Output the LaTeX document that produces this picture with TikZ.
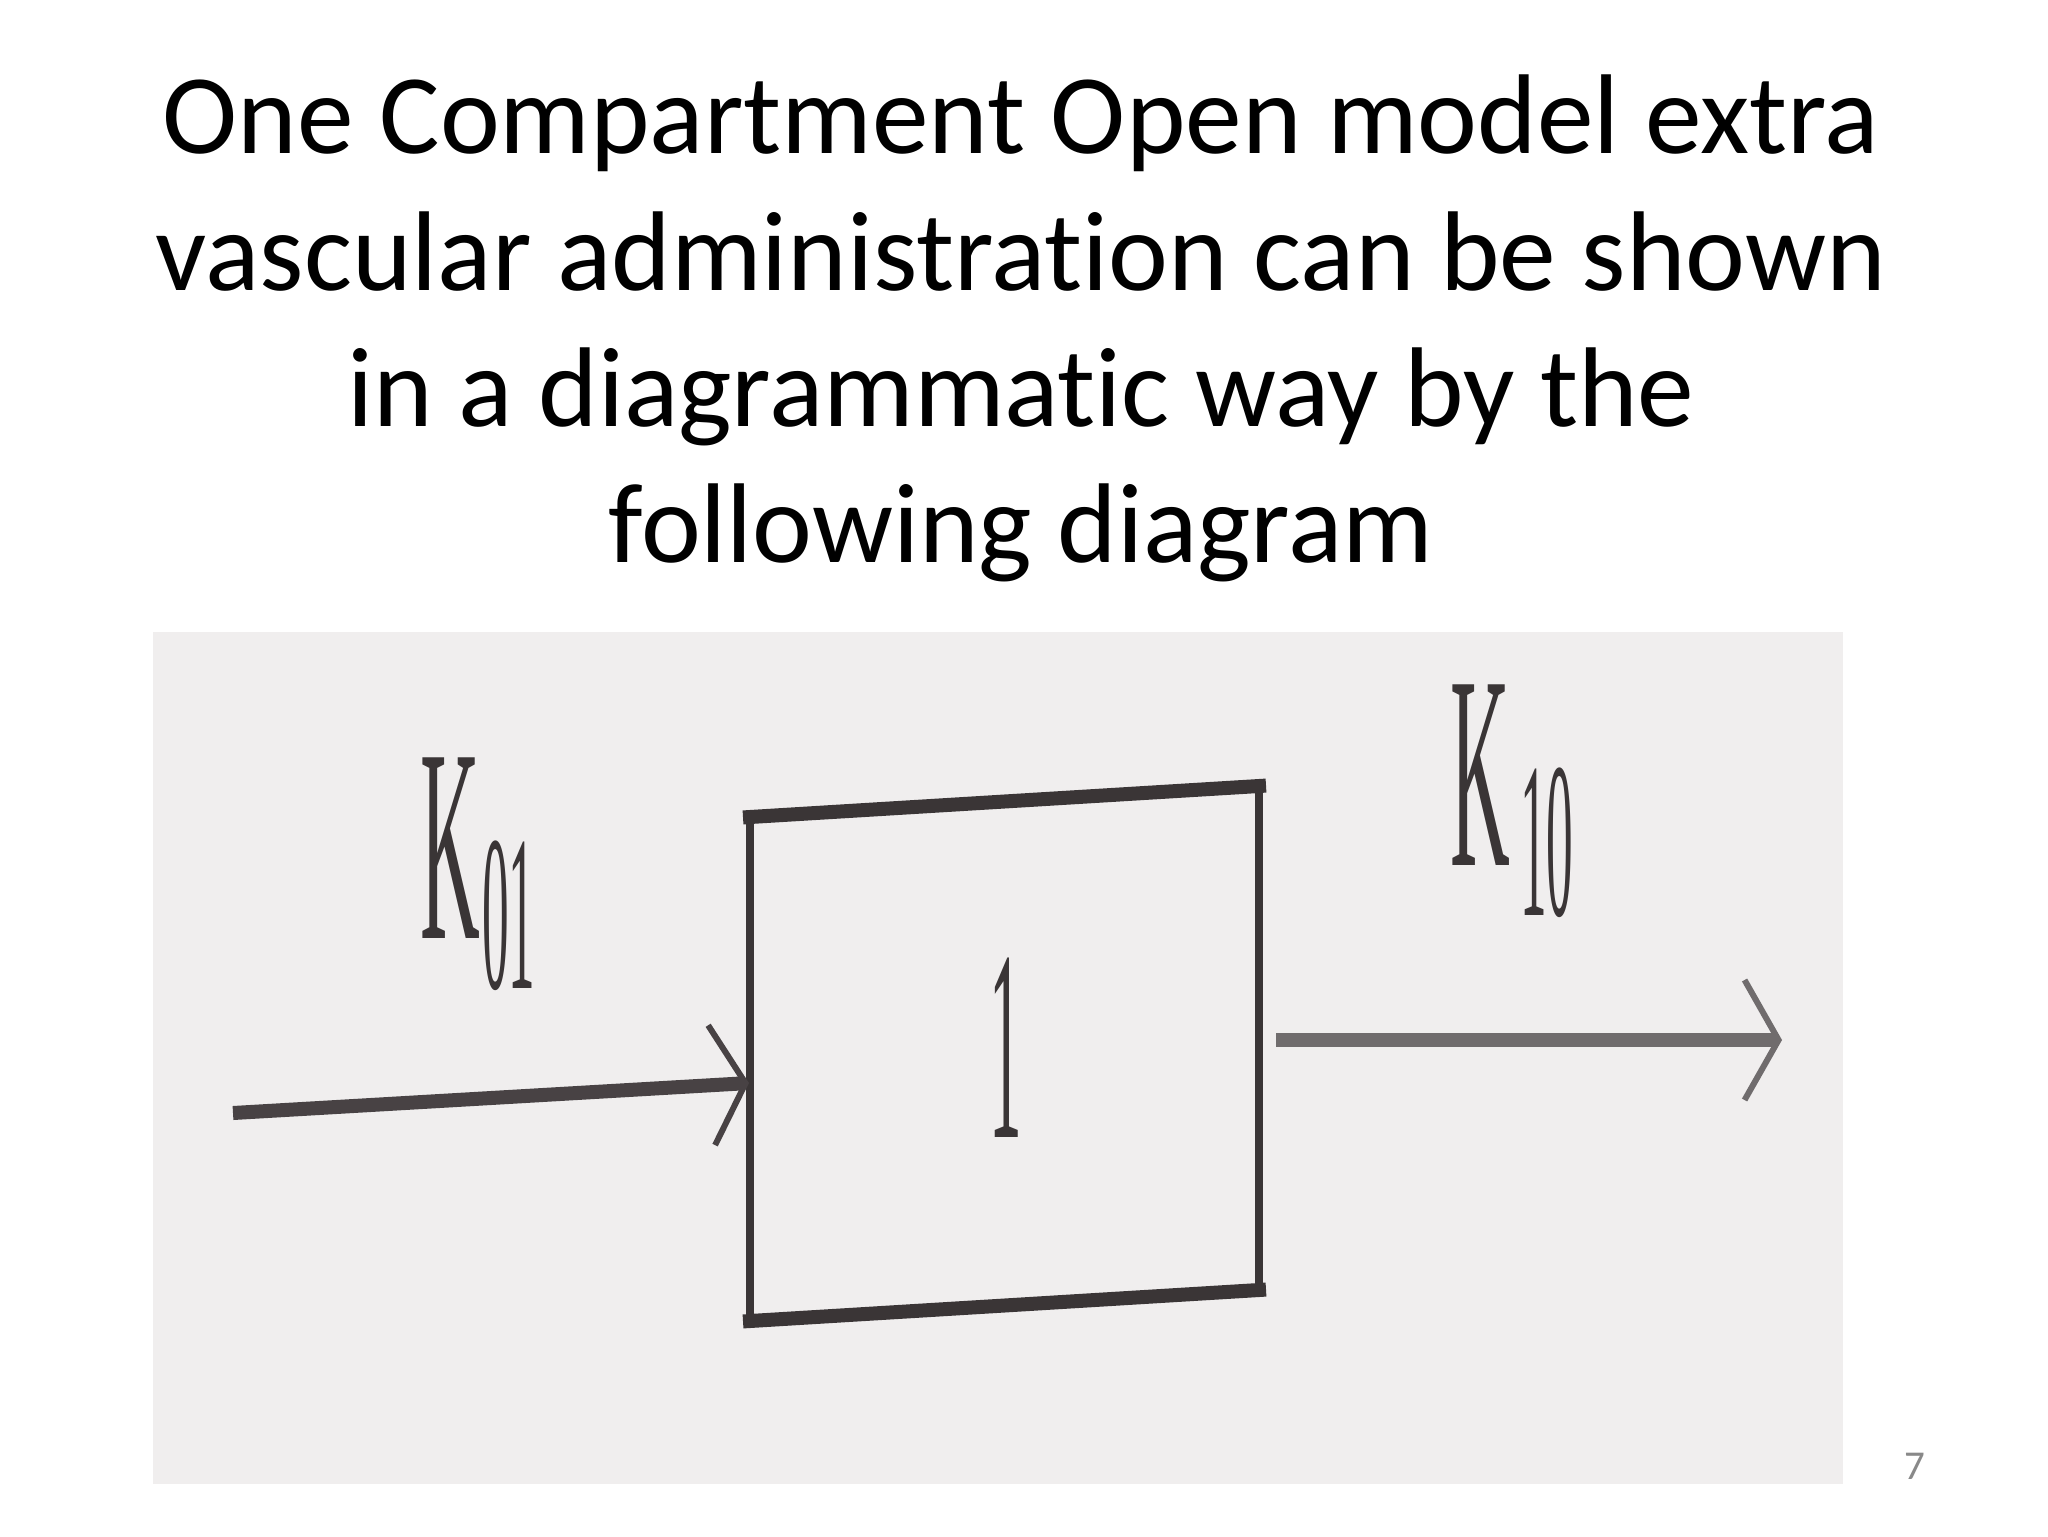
\documentclass[tikz,border=0pt]{standalone}
\usepackage{fontspec}
\setmainfont{Carlito}[Ligatures={NoCommon}]
\newfontfamily\scanfont{Liberation Serif}
\usetikzlibrary{arrows.meta}
\definecolor{scanbg}{RGB}{240,238,238}
\definecolor{inkdark}{RGB}{58,53,54}
\definecolor{inkmid}{RGB}{72,66,68}
\definecolor{inklight}{RGB}{112,108,109}
\definecolor{pagenum}{RGB}{137,137,137}
\begin{document}
\begin{tikzpicture}[x=0.5pt,y=-0.5pt,
  titleline/.style={anchor=base, inner sep=0pt, font=\fontsize{56.7pt}{68pt}\selectfont},
  boxtop/.style={draw=inkdark, line width=7pt, line cap=rect},
  boxside/.style={draw=inkdark, line width=4pt},
  flow/.style={line width=7pt, -{Straight Barb[length=17pt,width=60pt,line width=3pt]}},
  rate/.style={anchor=base west, inner sep=0pt, text=inkdark, font=\scanfont},
  pagelabel/.style={anchor=base, inner sep=0pt, text=pagenum, font=\fontsize{20.5pt}{24pt}\selectfont}]
\useasboundingbox (0,0) rectangle (2048,1536);
\fill[white] (0,0) rectangle (2048,1536);
% title
\node[titleline] (t1) at (1021,154) {One Compartment Open model extra};
\node[titleline] (t2) at (1021,290) {vascular administration can be shown};
\node[titleline] (t3) at (1021,426) {in a diagrammatic way by the};
\node[titleline] (t4) at (1021,562) {following diagram};
% scanned figure background
\fill[scanbg] (153,632) rectangle (1843,1484);
% compartment box
\coordinate (tl) at (750,817);
\coordinate (tr) at (1259,786);
\coordinate (br) at (1259,1290);
\coordinate (bl) at (750,1321);
\draw[boxside] (tl) -- (bl);
\draw[boxside] (tr) -- (br);
\draw[boxtop] (tl) -- (tr);
\draw[boxtop] (bl) -- (br);
\node[anchor=base, inner sep=0pt, text=inkdark, font=\scanfont] (comp) at (1006,1137)
  {\scalebox{0.24}[1]{\fontsize{136pt}{136pt}\selectfont 1}};
% input arrow
\coordinate (src) at (233,1113);
\coordinate (inpt) at (749,1083);
\draw[flow, inkmid] (src) -- (inpt);
% output arrow
\coordinate (outs) at (1276,1040);
\coordinate (sink) at (1782,1040);
\draw[flow, inklight] (outs) -- (sink);
% rate constants
\node[rate] (k01) at (420,938)
  {\scalebox{0.3}[1]{\fontsize{138pt}{138pt}\selectfont K}\hspace{1pt}\raisebox{-25pt}{\scalebox{0.24}[1]{\fontsize{111pt}{111pt}\selectfont 01}}};
\node[rate] (k10) at (1450,865)
  {\scalebox{0.3}[1]{\fontsize{138pt}{138pt}\selectfont K}\hspace{5pt}\raisebox{-25pt}{\scalebox{0.24}[1]{\fontsize{111pt}{111pt}\selectfont 10}}};
% page number
\node[pagelabel] (pg) at (1915,1479) {7};
\end{tikzpicture}
\end{document}
